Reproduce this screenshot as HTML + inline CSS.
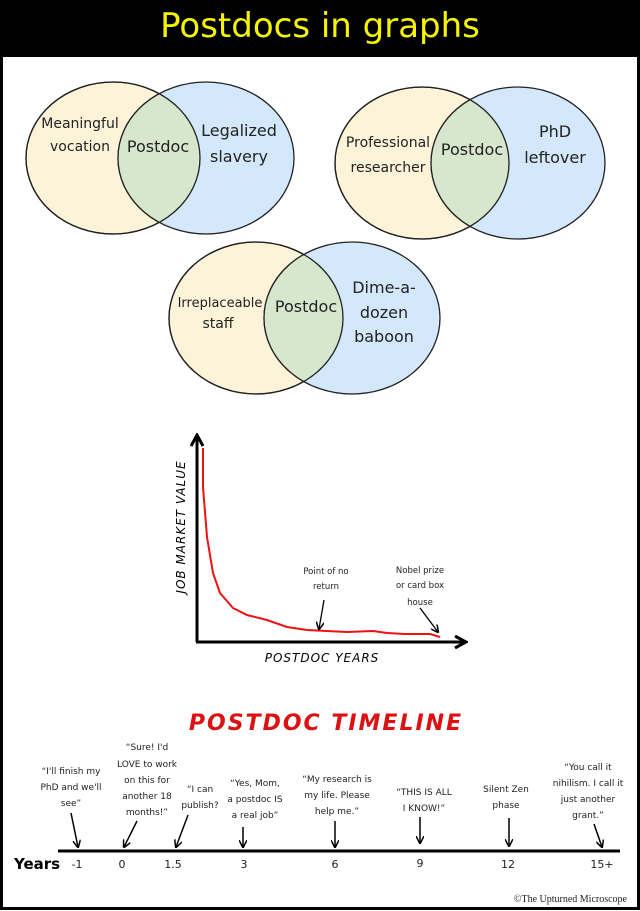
<!DOCTYPE html>
<html><head><meta charset="utf-8"><style>
html,body{margin:0;padding:0;background:#fff}
svg{display:block}
text{font-family:"DejaVu Sans","Liberation Sans",sans-serif}
</style></head><body>
<svg width="640" height="911" viewBox="0 0 640 911" xmlns="http://www.w3.org/2000/svg">
<defs>
<marker id="ah" markerWidth="8" markerHeight="8" refX="7" refY="4" orient="auto" markerUnits="userSpaceOnUse">
<path d="M0,0 L8,4 L0,8" fill="none" stroke="#000" stroke-width="1.5"/></marker>
<marker id="big" markerWidth="14" markerHeight="14" refX="12" refY="7" orient="auto" markerUnits="userSpaceOnUse">
<path d="M1,1 L12,7 L1,13" fill="none" stroke="#000" stroke-width="3"/></marker>
</defs>
<rect x="0" y="0" width="640" height="911" fill="#fff"/>
<rect x="1.5" y="1.5" width="637" height="907" fill="none" stroke="#000" stroke-width="3"/>
<rect x="0" y="0" width="640" height="57" fill="#000"/>
<text x="320" y="37" font-size="34" fill="#f4f400" text-anchor="middle" style="font-family:'DejaVu Sans',sans-serif">Postdocs in graphs</text>

<g stroke="#222" stroke-width="1.3">
<ellipse cx="113" cy="158" rx="87" ry="76" fill="#fdf3d9"/>
<ellipse cx="206" cy="158" rx="88" ry="76" fill="#d3e8fb"/>
<ellipse cx="422" cy="163" rx="87" ry="76" fill="#fdf3d9"/>
<ellipse cx="518" cy="163" rx="87" ry="76" fill="#d3e8fb"/>
<ellipse cx="256" cy="318" rx="87" ry="76" fill="#fdf3d9"/>
<ellipse cx="352" cy="318" rx="88" ry="76" fill="#d3e8fb"/>
</g>
<clipPath id="c1"><ellipse cx="113" cy="158" rx="87" ry="76"/></clipPath>
<clipPath id="c2"><ellipse cx="422" cy="163" rx="87" ry="76"/></clipPath>
<clipPath id="c3"><ellipse cx="256" cy="318" rx="87" ry="76"/></clipPath>
<g stroke="#222" stroke-width="1.3" fill="#d7e7cd">
<ellipse cx="206" cy="158" rx="88" ry="76" clip-path="url(#c1)"/>
<ellipse cx="518" cy="163" rx="87" ry="76" clip-path="url(#c2)"/>
<ellipse cx="352" cy="318" rx="88" ry="76" clip-path="url(#c3)"/>
</g>
<g fill="none" stroke="#222" stroke-width="1.3">
<ellipse cx="113" cy="158" rx="87" ry="76"/>
<ellipse cx="422" cy="163" rx="87" ry="76"/>
<ellipse cx="256" cy="318" rx="87" ry="76"/>
</g>
<g font-size="14" fill="#222" text-anchor="middle">
<text x="80" y="128">Meaningful</text><text x="80" y="151">vocation</text>
<text x="158" y="152" font-size="16">Postdoc</text>
<text x="239" y="136" font-size="16">Legalized</text><text x="239" y="162" font-size="16">slavery</text>
<text x="388" y="147">Professional</text><text x="388" y="172">researcher</text>
<text x="472" y="155" font-size="16">Postdoc</text>
<text x="555" y="137" font-size="16">PhD</text><text x="555" y="163" font-size="16">leftover</text>
<text x="220" y="307" font-size="13">Irreplaceable</text><text x="218" y="328">staff</text>
<text x="306" y="312" font-size="16">Postdoc</text>
<text x="384" y="293" font-size="16">Dime-a-</text><text x="384" y="318" font-size="16">dozen</text><text x="384" y="342" font-size="16">baboon</text>
</g>

<line x1="197" y1="642" x2="197" y2="435" stroke="#000" stroke-width="3" marker-end="url(#big)"/>
<line x1="196" y1="642" x2="466" y2="642" stroke="#000" stroke-width="3" marker-end="url(#big)"/>
<polyline points="203,448 203,487 207,537 213,573 220,593 233,608 247,615 267,620 287,627 307,630 347,632 373,631 387,633 405,634 430,634 440,637" fill="none" stroke="#ee1111" stroke-width="2"/>
<text x="185" y="527" font-size="12" font-style="italic" text-anchor="middle" letter-spacing="1" transform="rotate(-90 185 527)">JOB MARKET VALUE</text>
<text x="322" y="662" font-size="12" font-style="italic" text-anchor="middle" letter-spacing="1">POSTDOC YEARS</text>
<g font-size="8.5" text-anchor="middle" fill="#222">
<text x="326" y="574">Point of no</text><text x="326" y="589">return</text>
<text x="420" y="573">Nobel prize</text><text x="420" y="588">or card box</text><text x="420" y="605">house</text>
</g>
<line x1="324" y1="600" x2="319" y2="629" stroke="#000" stroke-width="1.3" marker-end="url(#ah)"/>
<line x1="420" y1="608" x2="438" y2="632" stroke="#000" stroke-width="1.3" marker-end="url(#ah)"/>

<text x="326" y="730" font-size="22" font-weight="bold" font-style="italic" fill="#dd1111" text-anchor="middle" letter-spacing="2">POSTDOC TIMELINE</text>

<line x1="58" y1="851" x2="620" y2="851" stroke="#000" stroke-width="3"/>
<text x="14" y="869" font-size="15" font-weight="bold">Years</text>
<g font-size="11" text-anchor="middle" fill="#222">
<text x="77" y="868">-1</text><text x="122" y="868">0</text><text x="173" y="868">1.5</text><text x="244" y="868">3</text>
<text x="335" y="868">6</text><text x="420" y="867">9</text><text x="508" y="868">12</text><text x="602" y="868">15+</text>
</g>
<g stroke="#000" stroke-width="1.5">
<line x1="71" y1="813" x2="78" y2="847" marker-end="url(#ah)"/>
<line x1="137" y1="821" x2="124" y2="847" marker-end="url(#ah)"/>
<line x1="188" y1="815" x2="176" y2="847" marker-end="url(#ah)"/>
<line x1="243" y1="827" x2="243" y2="847" marker-end="url(#ah)"/>
<line x1="335" y1="821" x2="335" y2="847" marker-end="url(#ah)"/>
<line x1="420" y1="817" x2="420" y2="843" marker-end="url(#ah)"/>
<line x1="509" y1="818" x2="509" y2="846" marker-end="url(#ah)"/>
<line x1="594" y1="824" x2="602" y2="847" marker-end="url(#ah)"/>
</g>
<g font-size="9" text-anchor="middle" fill="#222">
<text x="71" y="774">“I'll finish my</text><text x="71" y="790">PhD and we'll</text><text x="71" y="806">see”</text>
<text x="147" y="750">“Sure! I'd</text><text x="147" y="767">LOVE to work</text><text x="147" y="783">on this for</text><text x="147" y="799">another 18</text><text x="147" y="815">months!”</text>
<text x="200" y="792">“I can</text><text x="200" y="808">publish?</text>
<text x="255" y="786">“Yes, Mom,</text><text x="255" y="802">a postdoc IS</text><text x="255" y="818">a real job”</text>
<text x="337" y="782">“My research is</text><text x="337" y="798">my life. Please</text><text x="337" y="814">help me.”</text>
<text x="424" y="795">“THIS IS ALL</text><text x="424" y="811">I KNOW!”</text>
<text x="506" y="792">Silent Zen</text><text x="506" y="808">phase</text>
<text x="588" y="770">“You call it</text><text x="588" y="786">nihilism. I call it</text><text x="588" y="802">just another</text><text x="588" y="818">grant.”</text>
</g>
<text x="627" y="902" font-size="10" text-anchor="end" style="font-family:'Liberation Serif',serif" fill="#222">©The Upturned Microscope</text>
</svg>
</body></html>
